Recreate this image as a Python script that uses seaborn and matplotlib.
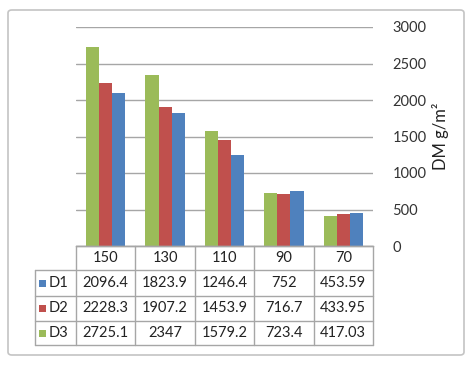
import matplotlib
matplotlib.use("Agg")
import matplotlib.pyplot as plt
import seaborn as sns
import pandas as pd
from matplotlib.lines import Line2D
from matplotlib.patches import Rectangle, FancyBboxPatch

categories = ["150", "130", "110", "90", "70"]
series_names = ["D1", "D2", "D3"]
d1 = [2096.4, 1823.9, 1246.4, 752, 453.59]
d2 = [2228.3, 1907.2, 1453.9, 716.7, 433.95]
d3 = [2725.1, 2347, 1579.2, 723.4, 417.03]
d1_labels = ["2096.4", "1823.9", "1246.4", "752", "453.59"]
d2_labels = ["2228.3", "1907.2", "1453.9", "716.7", "433.95"]
d3_labels = ["2725.1", "2347", "1579.2", "723.4", "417.03"]
colors = {"D1": "#4F81BD", "D2": "#C0504D", "D3": "#9BBB59"}
yticks = [0, 500, 1000, 1500, 2000, 2500, 3000]

sns.set_theme(style="white")
plt.rcParams['font.family'] = ['Lato', 'DejaVu Sans']

rows = []
for name, vals in zip(series_names, [d1, d2, d3]):
    for c, v in zip(categories, vals):
        rows.append({"cat": c, "series": name, "value": v})
df = pd.DataFrame(rows)

W, H = 474, 377
fig = plt.figure(figsize=(W / 100, H / 100), dpi=100)
fig.patch.set_facecolor("white")

def fx(x):
    return x / W

def fy(y):
    return 1 - y / H

# outer frame
fig.add_artist(FancyBboxPatch((fx(8), fy(355)), fx(464) - fx(8), fy(10) - fy(355),
                              boxstyle="round,pad=0,rounding_size=0.008",
                              transform=fig.transFigure, fill=False,
                              edgecolor="#C4C4C4", linewidth=1.2))

x0, x1 = 76, 373
ytop, ybot = 27, 246
ax = fig.add_axes([fx(x0), fy(ybot), fx(x1) - fx(x0), fy(ytop) - fy(ybot)])
sns.barplot(data=df, x="cat", y="value", hue="series", order=categories,
            hue_order=["D3", "D2", "D1"], palette=colors, width=0.66,
            saturation=1, ax=ax, legend=False, edgecolor="none")
ax.set_xlim(-0.5, len(categories) - 0.5)
ax.set_ylim(0, 3000)
ax.set_yticks(yticks)
ax.yaxis.tick_right()
ax.yaxis.set_label_position("right")
ax.set_yticklabels([str(t) for t in yticks], fontsize=10.5, color="#333333",
                   ha="left")
ax.tick_params(axis="y", length=0, pad=14)
ax.set_xticks([])
ax.set_xlabel("")
ax.set_ylabel("DM g/m²", fontsize=12, color="#222222", labelpad=4)
ax.grid(axis="y", color="#A6A6A6", linewidth=1)
ax.set_axisbelow(True)
for s in ["top", "right", "left"]:
    ax.spines[s].set_visible(False)
ax.spines["bottom"].set_color("#A6A6A6")
ax.spines["bottom"].set_linewidth(1)

# data table
lc = "#A6A6A6"
row_y = [246, 270, 296, 321, 345]
legend_x0 = 35
ncat = len(categories)
col_x = [x0 + (x1 - x0) * i / ncat for i in range(ncat + 1)]

def hline(xa, xb, y):
    fig.add_artist(Line2D([fx(xa), fx(xb)], [fy(y), fy(y)], color=lc, lw=1,
                          transform=fig.transFigure))

def vline(x, ya, yb):
    fig.add_artist(Line2D([fx(x), fx(x)], [fy(ya), fy(yb)], color=lc, lw=1,
                          transform=fig.transFigure))

hline(x0, x1, row_y[0])
for y in row_y[1:]:
    hline(legend_x0, x1, y)
for x in col_x:
    vline(x, row_y[0], row_y[-1])
vline(legend_x0, row_y[1], row_y[-1])

tc = "#222222"
for i, c in enumerate(categories):
    xc = (col_x[i] + col_x[i + 1]) / 2
    fig.text(fx(xc), fy((row_y[0] + row_y[1]) / 2), c, ha="center", va="center",
             fontsize=10.5, color=tc)

for r, (name, labs) in enumerate(zip(series_names, [d1_labels, d2_labels, d3_labels])):
    yc = (row_y[r + 1] + row_y[r + 2]) / 2
    fig.add_artist(Rectangle((fx(39), fy(yc + 3.5)), fx(7), fy(0) - fy(7),
                             transform=fig.transFigure, color=colors[name], lw=0))
    fig.text(fx(49), fy(yc), name, ha="left", va="center", fontsize=10.5, color=tc)
    for i, lab in enumerate(labs):
        xc = (col_x[i] + col_x[i + 1]) / 2
        fig.text(fx(xc), fy(yc), lab, ha="center", va="center", fontsize=10.5, color=tc)

fig.savefig("out.png", dpi=100, facecolor="white")
